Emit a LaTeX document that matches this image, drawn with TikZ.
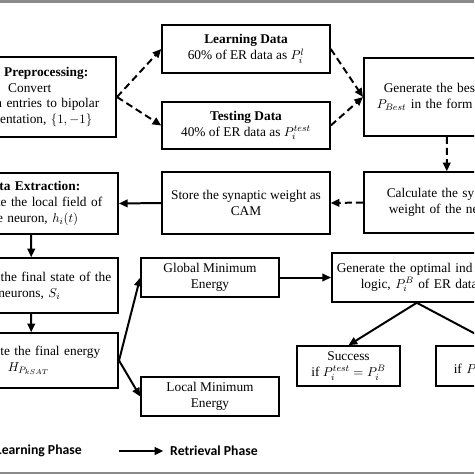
\documentclass[tikz,border=0pt]{standalone}
\usepackage{amsmath}
\usepackage{fontspec}
\setmainfont{Liberation Serif}
\newfontfamily\legendfont{Carlito}
\usetikzlibrary{arrows.meta}
\definecolor{barGray}{HTML}{8A8A8A}

\begin{document}
\begin{tikzpicture}[x=0.03cm,y=-0.03cm,>={Triangle[length=2.6mm,width=2.3mm]}]
        \tikzstyle{every node} = [rectangle,font=\fontsize{11.4}{13.6}\selectfont]
        \tikzstyle{box} = [draw,line width=1.3pt,align=center]
        \tikzstyle{cutleft} = [box,anchor=east,align=right]
        \tikzstyle{cutright} = [box,anchor=west,align=left]
        \tikzstyle{legend} = [font=\legendfont\bfseries\fontsize{11.7}{14}\selectfont,inner sep=0pt]
        \tikzstyle{learning} = [->,line width=1.7pt,dash pattern=on 6pt off 3.5pt]
        \tikzstyle{retrieval} = [->,line width=1.7pt]

        \useasboundingbox (0,0) rectangle (474,474);
        \clip (0,0) rectangle (474,474);
        \fill[barGray] (0,0) rectangle (474,2.5);
        \fill[barGray] (0,471.5) rectangle (474,474);

        \node[cutleft,text width=4.14cm,inner xsep=0.51cm,minimum height=2.4cm] (prep) at (117,97) {\textbf{Preprocessing:}\hspace*{0.33cm}\null\\Convert\hspace*{1.44cm}\null\\a entries to bipolar\\entation, $\{1,-1\}$\hspace*{0.21cm}\null};
        \node[box,minimum width=5.04cm,minimum height=1.44cm] (learn) at (246,49) {\textbf{Learning Data}\\60\% of ER data as $P_i^l$};
        \node[box,minimum width=5.04cm,minimum height=1.41cm] (test) at (246,125.5) {\textbf{Testing Data}\\40\% of ER data as $P_i^{test}$};
        \node[cutright,text width=4.2cm,inner xsep=0.39cm,minimum height=2.34cm] (best) at (363,97) {\hspace*{0.21cm}Generate the bes\\$P_{Best}$ in the form};
        \node[cutright,text width=3.6cm,inner xsep=0.69cm,minimum height=1.83cm] (calc) at (363,202.5) {Calculate the sy\\\hspace*{0.06cm}weight of the ne};
        \node[box,minimum width=5.04cm,minimum height=1.86cm] (store) at (246,203) {Store the synaptic weight as\\CAM};
        \node[cutleft,text width=4.26cm,inner xsep=0.48cm,minimum height=1.83cm] (extr) at (119,203.5) {\textbf{ta Extraction:}\hspace*{0.66cm}\null\\te the local field of\\e neuron, $h_i(t)$\hspace*{0.72cm}\null};
        \node[cutleft,text width=4.8cm,inner xsep=0.21cm,minimum height=1.65cm] (state) at (119,285.5) {the final state of the\\neurons, $S_i$\hspace*{1.53cm}\null};
        \node[cutleft,text width=4.14cm,inner xsep=0.54cm,minimum height=1.65cm] (energy) at (119,360.5) {ate the final energy\\$H_{P_{kSAT}}$\hspace*{1.53cm}\null};
        \node[box,minimum width=4.14cm,minimum height=1.17cm] (glob) at (210,277.5) {Global Minimum\\Energy};
        \node[box,minimum width=4.14cm,minimum height=1.17cm] (loc) at (210,396.5) {Local Minimum\\Energy};
        \node[cutright,text width=4.8cm,inner xsep=0.15cm,minimum height=1.47cm] (opt) at (331,277.5) {Generate the optimal ind\\\hspace*{0.72cm}logic, $P_i^B$ of ER data};
        \node[box,minimum width=3.09cm,minimum height=1.2cm] (succ) at (348.5,366) {Success\\if $P_i^{test}=P_i^B$};
        \node[cutright,text width=2.58cm,inner xsep=0.54cm,minimum height=1.2cm] (fail) at (435,366) {\mbox{}\\if $P$};

        \node[legend,anchor=east] (lphase) at (82,451) {Learning Phase};
        \node[legend,anchor=west] (rphase) at (170,451) {Retrieval Phase};
        \coordinate (rtail) at (119,451);

        \draw[learning] (prep.east) -- (learn.west);
        \draw[learning] (prep.east) -- (test.west);
        \draw[learning] (learn.east) -- (best.west);
        \draw[learning] (test.east) -- (best.west);
        \draw[learning] (best.south) -- (calc.north);
        \draw[learning] (calc.west) -- (store.east);
        \draw[retrieval] (store.west) -- (extr.east);
        \draw[retrieval] (extr.south) -- (state.north);
        \draw[retrieval] (state.south) -- (energy.north);
        \draw[retrieval] (energy.east) -- (glob.west);
        \draw[retrieval] (energy.east) -- (loc.west);
        \draw[retrieval] (glob.east) -- (opt.west);
        \draw[retrieval] (opt.south) -- (succ.north);
        \draw[retrieval] (opt.south) -- (fail.north);
        \draw[retrieval,shorten >=0.2cm] (rtail) -- (rphase);
\end{tikzpicture}
\end{document}
